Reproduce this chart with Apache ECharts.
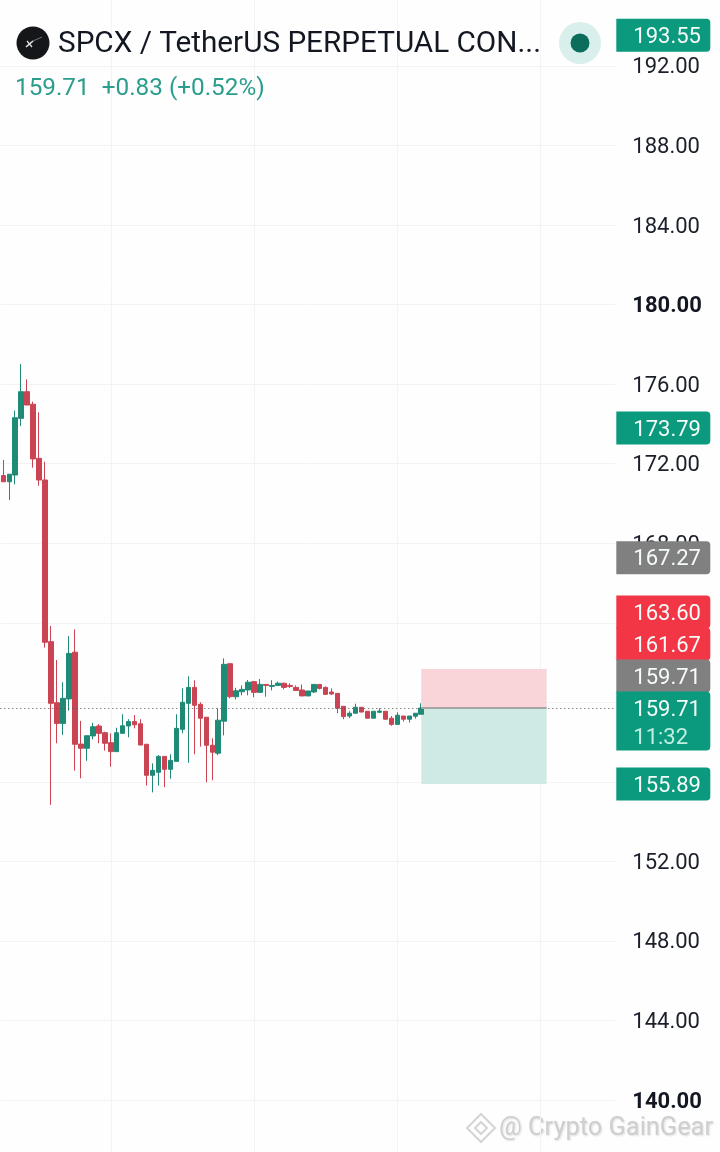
<!DOCTYPE html>
<html><head><meta charset="utf-8">
<style>html,body{margin:0;padding:0;background:#fefefe}#c{width:720px;height:1152px}</style>
<script src="https://cdn.jsdelivr.net/npm/echarts@6/dist/echarts.min.js"></script></head>
<body><div id="c"></div>
<script>
const opens=[171.40,171.09,171.43,174.28,175.62,174.99,172.27,171.18,163.05,159.98,
158.94,160.17,162.52,157.90,157.69,158.31,158.81,158.47,157.97,157.52,
158.44,158.81,159.03,158.92,157.89,156.33,156.48,157.28,156.63,157.03,
158.64,159.95,160.75,159.90,159.25,157.84,157.44,159.05,161.94,160.28,
160.53,160.62,161.04,160.50,160.90,160.80,160.85,160.96,160.85,160.75,
160.62,160.32,160.52,160.90,160.75,160.52,160.45,159.80,159.31,159.45,
159.75,159.55,159.20,159.50,159.55,159.20,158.89,159.31,159.15,159.30,159.40];
const closes=[171.09,171.47,174.31,175.62,174.95,172.24,171.18,163.02,159.95,158.94,
160.20,162.46,157.89,157.69,158.32,158.77,158.44,157.94,157.52,158.47,
158.82,159.03,158.87,157.85,156.33,156.58,157.28,156.63,157.08,158.69,
160.00,160.75,159.85,159.20,157.84,157.49,159.10,161.91,160.28,160.58,
160.65,161.01,160.50,160.90,160.85,160.85,160.96,160.75,160.80,160.60,
160.32,160.57,160.90,160.70,160.40,160.42,159.70,159.28,159.45,159.75,
159.51,159.20,159.55,159.56,159.15,158.89,159.35,159.15,159.31,159.45,159.71];
const lows=[171.09,170.17,170.96,173.90,174.95,171.80,170.89,162.75,154.84,157.94,
158.36,159.58,156.56,156.18,157.06,158.14,157.94,157.57,156.76,157.52,
158.44,158.24,158.69,157.85,155.81,155.47,155.81,155.73,156.16,157.03,
158.44,156.96,157.39,157.77,155.98,156.08,157.34,158.34,160.20,160.15,
160.35,160.35,160.25,160.50,160.28,160.60,160.82,160.65,160.72,160.57,
160.32,160.32,160.47,160.65,160.37,160.37,159.45,159.15,159.20,159.45,
159.50,159.20,159.20,159.45,159.12,158.82,158.89,159.03,158.98,159.18,159.40];
const highs=[172.19,171.47,174.67,177.01,176.24,175.12,174.58,172.10,163.84,162.13,
161.01,163.33,163.67,159.07,158.32,158.97,158.91,158.52,158.44,158.72,
159.40,159.15,159.36,159.15,157.89,156.93,157.35,157.28,157.39,159.40,
160.70,161.31,161.11,160.00,159.25,158.19,159.70,162.21,161.94,160.73,
160.85,161.12,161.04,161.17,160.90,161.11,161.04,160.99,160.96,160.85,
160.90,160.57,160.92,160.90,160.80,160.70,160.45,159.80,159.55,159.93,
159.75,159.55,159.55,159.70,159.55,159.31,159.50,159.31,159.31,159.45,159.95];
const bandCount=103;
const categories=Array.from({length:bandCount},(_,i)=>String(i));
const yTicks={min:136,max:196,step:4};
const boldTicks=[180,140];
const lastPrice=159.71, stopPrice=161.67, targetPrice=155.89;
const zoneStart='70', zoneEnd='91';
const tagTexts=['193.55','173.79','167.27','163.60','161.67','159.71','159.71','155.89'];
const tagAnchors=[193.55,173.79,167.27,164.54,162.93,161.32,159.71,155.89];
const tagFills=['#0b9a7d','#0b9a7d','#808080','#f23645','#f23645','#808080','#0b9a7d','#0b9a7d'];
const tagExtras=['','','','','','','11:32',''];

const up='#1f8a76', down='#ca4453';
const chart=echarts.init(document.getElementById('c'),null,{renderer:'canvas',width:720,height:1152});
chart.setOption({
  animation:false,
  backgroundColor:'#fefefe',
  title:[
    {text:'SPCX / TetherUS PERPETUAL CON...',left:53,top:25,textStyle:{fontFamily:'Roboto',fontSize:29.7,fontWeight:'normal',color:'#131722'}},
    {text:'159.71  +0.83 (+0.52%)',left:10,top:72,textStyle:{fontFamily:'Roboto',fontSize:24.3,fontWeight:'normal',color:'#2b9d8c'}}
  ],
  grid:{left:0.3,width:615,top:-13.54,height:1193.08,containLabel:false,outerBoundsMode:'none'},
  xAxis:{type:'category',data:categories,boundaryGap:true,
    axisLine:{show:false},axisTick:{show:false},axisLabel:{show:false},
    splitLine:{show:true,alignWithLabel:true,interval:(i)=>(i-18)%24===0,lineStyle:{color:'#f3f3f3',width:1}}},
  yAxis:{type:'value',position:'right',min:yTicks.min,max:yTicks.max,interval:yTicks.step,
    axisLine:{show:false},axisTick:{show:false},
    splitLine:{show:true,lineStyle:{color:'#f3f3f3',width:1}},
    axisLabel:{margin:17,padding:[4,0,0,0],fontFamily:'Roboto',fontSize:22,color:'#1b1f29',
      formatter:v=>boldTicks.includes(v)?'{b|'+v.toFixed(2)+'}':v.toFixed(2),
      rich:{b:{fontFamily:'Roboto',fontSize:22,fontWeight:'bold',color:'#131722'}}}},
  series:[
    {type:'candlestick',barWidth:5,
     data:opens.map((o,i)=>[o,closes[i],lows[i],highs[i]]),
     itemStyle:{color:up,color0:down,borderColor:up,borderColor0:down,borderWidth:1},
     markLine:{silent:true,symbol:'none',label:{show:false},animation:false,
       data:[
         {yAxis:lastPrice,lineStyle:{color:'#555',type:[1,3],width:1}},
         [{coord:[zoneStart,lastPrice],lineStyle:{color:'#a5a5a5',type:'solid',width:2}},{coord:[zoneEnd,lastPrice]}]
       ]},
     markArea:{silent:true,data:[
       [{xAxis:zoneStart,yAxis:stopPrice,itemStyle:{color:'#f9d5d9'}},{xAxis:zoneEnd,yAxis:lastPrice}],
       [{xAxis:zoneStart,yAxis:lastPrice,itemStyle:{color:'#cfeae5'}},{xAxis:zoneEnd,yAxis:targetPrice}]
     ]}
    },
    {type:'custom',z:10,silent:true,clip:false,
     data:tagAnchors.map((v,i)=>[0,v,i]),
     encode:{x:0,y:1},
     renderItem:(params,api)=>{
       const i=api.value(2), y=api.coord([0,api.value(1)])[1];
       const x=params.coordSys.x+params.coordSys.width+1;
       const extra=tagExtras[i];
       const h=extra?59:33;
       const kids=[{type:'rect',shape:{x:x,y:y-16.5,width:94,height:h,r:[0,4,4,0]},style:{fill:tagFills[i]}},
         {type:'text',style:{x:x+17,y:y+2,text:tagTexts[i],fill:'#f4fbf9',font:'22px Roboto',verticalAlign:'middle'}}];
       if(extra)kids.push({type:'text',style:{x:x+17,y:y+30,text:extra,fill:'#bfeee3',font:'22px Roboto',verticalAlign:'middle'}});
       return {type:'group',children:kids};
     }}
  ],
  graphic:[
    {type:'circle',shape:{cx:33,cy:43,r:16.5},style:{fill:'#14161a'}},
    {type:'line',shape:{x1:26,y1:47,x2:33,y2:41},style:{stroke:'#e8e8e8',lineWidth:1.6}},
    {type:'line',shape:{x1:27,y1:41,x2:32,y2:47},style:{stroke:'#e8e8e8',lineWidth:1.2}},
    {type:'line',shape:{x1:33,y1:41,x2:42,y2:37},style:{stroke:'#8a8a8a',lineWidth:0.8}},
    {type:'circle',shape:{cx:580,cy:43,r:21},style:{fill:'#d9efec'}},
    {type:'circle',shape:{cx:580,cy:43,r:9.5},style:{fill:'#0b6e5d'}},
    {type:'polygon',shape:{points:[[481,1114],[495,1128],[481,1142],[467,1128]]},style:{fill:'none',stroke:'#d4d4d4',lineWidth:2}},
    {type:'polygon',shape:{points:[[481,1122],[487,1128],[481,1134],[475,1128]]},style:{fill:'none',stroke:'#d4d4d4',lineWidth:2}},
    {type:'text',style:{x:499,y:1129,text:'@ Crypto GainGear',fill:'#cfcfcf',font:'25.4px Roboto',verticalAlign:'middle',textShadowColor:'#dddddd',textShadowBlur:2,textShadowOffsetX:1,textShadowOffsetY:1}}
  ]
});
</script></body></html>
